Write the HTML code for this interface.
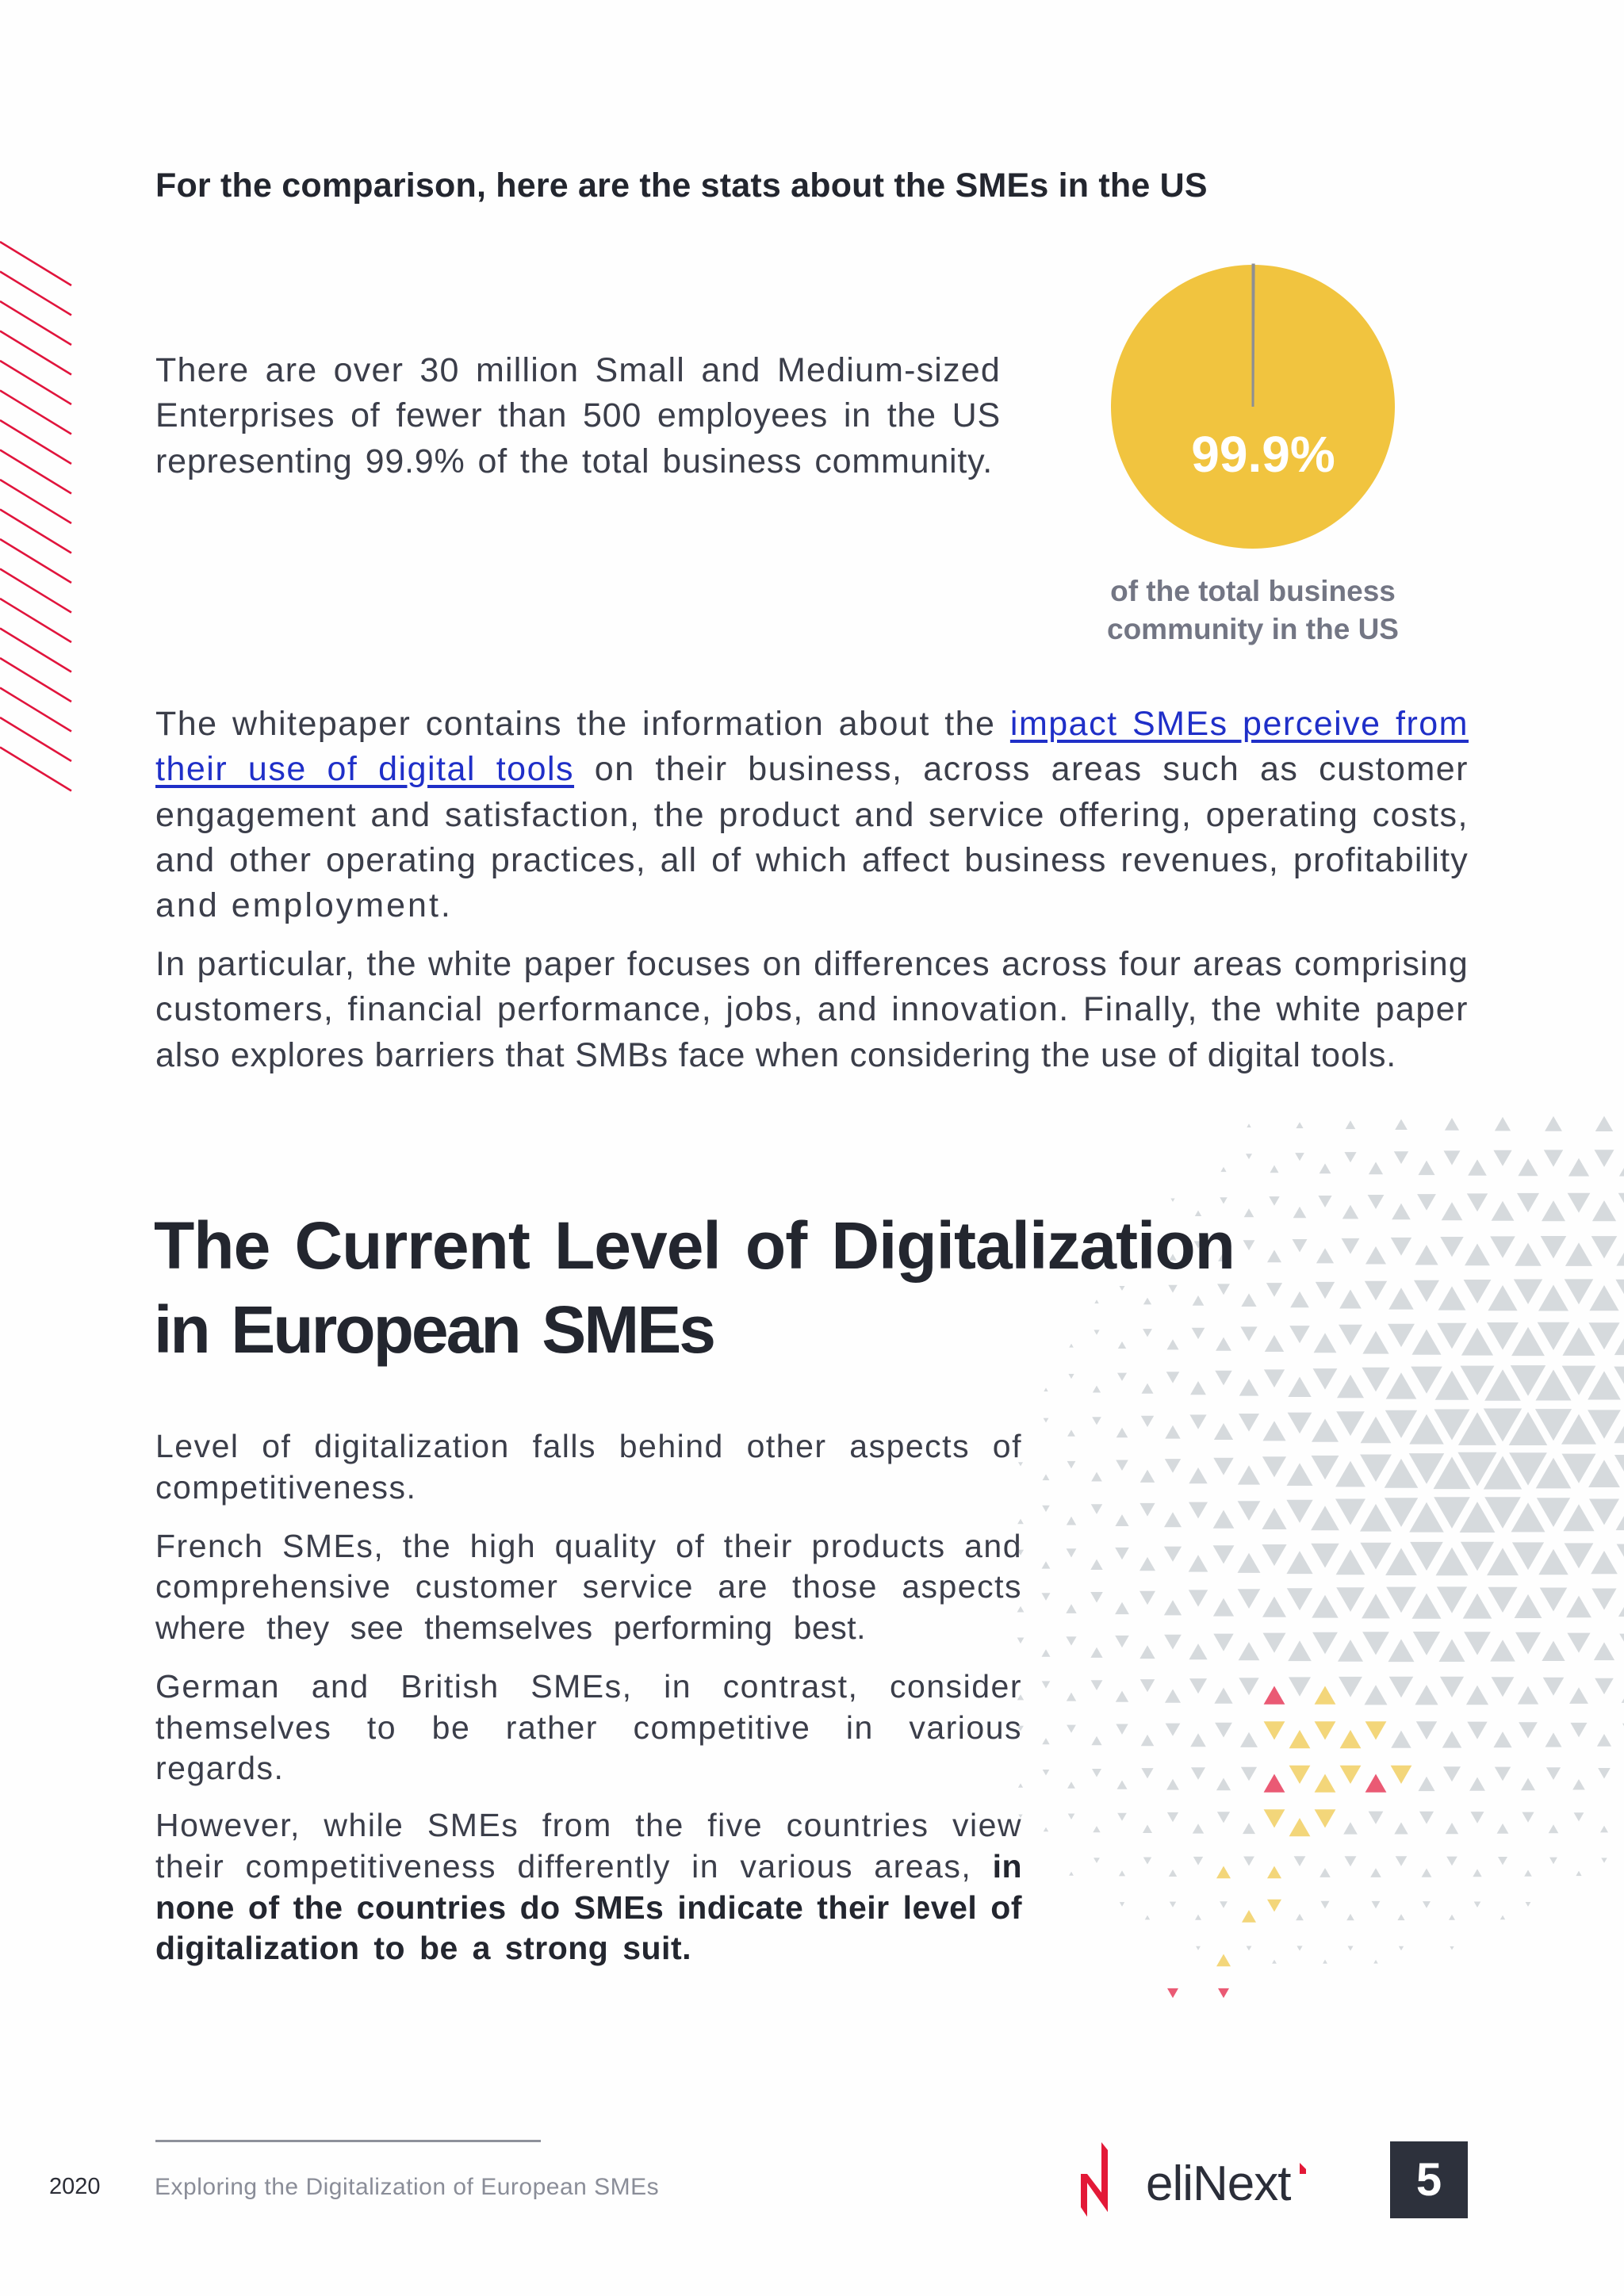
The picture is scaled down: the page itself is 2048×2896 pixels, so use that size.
<!DOCTYPE html>
<html><head><meta charset="utf-8">
<style>
html,body{margin:0;padding:0;}
body{width:2048px;height:2896px;position:relative;background:#fefefe;font-family:"Liberation Sans",sans-serif;color:#3b3e4a;overflow:hidden;}
.abs{position:absolute;}
.ln{position:absolute;white-space:nowrap;text-align:justify;text-align-last:justify;}
.nl{text-align-last:left;}
.body42{font-size:43px;letter-spacing:3px;}
.body40{font-size:41px;letter-spacing:1.5px;}
a{color:#1f2fc8;text-decoration:underline;text-underline-offset:6px;}
b{color:#23262f;letter-spacing:0.5px;}
</style></head><body>
<svg class="abs" style="left:0;top:0" width="2048" height="2896">
  <g id="stripes"></g>
  <g id="tris"></g>
</svg>

<div class="abs" style="left:196px;top:210px;font-size:43px;font-weight:bold;color:#23262f;white-space:nowrap;letter-spacing:0.2px">For the comparison, here are the stats about the SMEs in the US</div>

<div>
<div class="ln body42" style="left:196px;top:443px;width:1066px;letter-spacing:1.2px">There are over 30 million Small and Medium-sized</div>
<div class="ln body42" style="left:196px;top:500px;width:1066px;letter-spacing:0.8px">Enterprises of fewer than 500 employees in the US</div>
<div class="ln body42" style="left:196px;top:558px;width:1056px;letter-spacing:0.8px">representing 99.9% of the total business community.</div>
</div>

<svg class="abs" style="left:1380px;top:310px" width="400" height="420">
  <g id="pie"></g>
  <text x="213" y="285" text-anchor="middle" font-family="Liberation Sans, sans-serif" font-weight="bold" font-size="64" fill="#ffffff">99.9%</text>
</svg>
<div class="abs" style="left:1330px;top:722px;width:500px;text-align:center;font-size:37px;font-weight:bold;color:#737684;line-height:48px">of the total business<br>community in the US</div>

<div>
<div class="ln body42" style="left:196px;top:889px;width:1656px;letter-spacing:1.5px">The whitepaper contains the information about the <a>impact SMEs perceive from</a></div>
<div class="ln body42" style="left:196px;top:946px;width:1656px;letter-spacing:1.5px"><a>their use of digital tools</a> on their business, across areas such as customer</div>
<div class="ln body42" style="left:196px;top:1004px;width:1656px;letter-spacing:1.5px">engagement and satisfaction, the product and service offering, operating costs,</div>
<div class="ln body42" style="left:196px;top:1061px;width:1656px;letter-spacing:1.2px">and other operating practices, all of which affect business revenues, profitability</div>
<div class="ln body42 nl" style="left:196px;top:1118px;">and employment.</div>
</div>

<div>
<div class="ln body42" style="left:196px;top:1192px;width:1656px;letter-spacing:1.2px">In particular, the white paper focuses on differences across four areas comprising</div>
<div class="ln body42" style="left:196px;top:1249px;width:1656px;letter-spacing:1.5px">customers, financial performance, jobs, and innovation. Finally, the white paper</div>
<div class="ln body42" style="left:196px;top:1307px;width:1558px;letter-spacing:0.8px">also explores barriers that SMBs face when considering the use of digital tools.</div>
</div>

<div style="position:absolute;left:194px;top:1518px;font-size:84px;font-weight:bold;color:#23262f;line-height:106px;">
<div class="ln" style="position:relative;width:1363px;letter-spacing:-1px">The Current Level of Digitalization</div>
<div class="ln" style="position:relative;width:706px;letter-spacing:-3px">in European SMEs</div>
</div>

<div>
<div class="ln body40" style="left:196px;top:1801px;width:1093px">Level of digitalization falls behind other aspects of</div>
<div class="ln body40 nl" style="left:196px;top:1853px;">competitiveness.</div>
<div class="ln body40" style="left:196px;top:1927px;width:1093px">French SMEs, the high quality of their products and</div>
<div class="ln body40" style="left:196px;top:1978px;width:1093px">comprehensive customer service are those aspects</div>
<div class="ln body40" style="left:196px;top:2030px;width:896px;letter-spacing:0.5px">where they see themselves performing best.</div>
<div class="ln body40" style="left:196px;top:2104px;width:1093px">German and British SMEs, in contrast, consider</div>
<div class="ln body40" style="left:196px;top:2156px;width:1093px">themselves to be rather competitive in various</div>
<div class="ln body40 nl" style="left:196px;top:2207px;">regards.</div>
<div class="ln body40" style="left:196px;top:2279px;width:1093px">However, while SMEs from the five countries view</div>
<div class="ln body40" style="left:196px;top:2331px;width:1093px">their competitiveness differently in various areas, <b>in</b></div>
<div class="ln body40" style="left:196px;top:2383px;width:1093px;letter-spacing:0"><b>none of the countries do SMEs indicate their level of</b></div>
<div class="ln body40" style="left:196px;top:2434px;width:676px;letter-spacing:0"><b>digitalization to be a strong suit.</b></div>
</div>

<div class="abs" style="left:196px;top:2699px;width:486px;height:3px;background:#8e919a"></div>
<div class="abs" style="left:62px;top:2742px;font-size:29px;color:#2b2d36">2020</div>
<div class="abs" style="left:195px;top:2742px;font-size:30px;letter-spacing:0.5px;color:#8a8d98">Exploring the Digitalization of European SMEs</div>

<svg class="abs" style="left:1355px;top:2698px" width="300" height="104">
  <polygon points="8,44 16,44 16,98 8,86" fill="#e31937"/>
  <polygon points="8,44 16,44 42,78 42,92" fill="#e31937"/>
  <polygon points="34,4 42,14 42,92 34,80" fill="#e31937"/>
  <text x="90" y="77" font-family="Liberation Sans, sans-serif" font-size="62" fill="#2b2e39" letter-spacing="-1">eliNext</text>
  <polygon points="284,30 292,38 292,44 284,44" fill="#e31937"/>
</svg>

<div class="abs" style="left:1753px;top:2701px;width:98px;height:97px;background:#2d313c;color:#ffffff;font-size:58px;font-weight:bold;text-align:center;line-height:97px">5</div>

<script>
// pie data
const pieLabels = ["SMEs", "Large enterprises"];
const pieValues = [99.9, 0.1];
const pieColors = ["#f1c43f", "#8e8f93"];

(function(){
  const NS="http://www.w3.org/2000/svg";
  const g=document.getElementById('pie');
  const cx=200, cy=203, r=179;
  const total=pieValues.reduce((a,b)=>a+b,0);
  let a0=-Math.PI/2;
  for(let i=0;i<pieValues.length;i++){
    const ang=pieValues[i]/total*2*Math.PI;
    const a1=a0-ang;
    const x0=cx+r*Math.cos(a0), y0=cy+r*Math.sin(a0);
    const x1=cx+r*Math.cos(a1), y1=cy+r*Math.sin(a1);
    const large=ang>Math.PI?1:0;
    const p=document.createElementNS(NS,'path');
    p.setAttribute('d',`M${cx},${cy} L${x0},${y0} A${r},${r} 0 ${large} 0 ${x1},${y1} Z`);
    p.setAttribute('fill',pieColors[i]);
    if(pieValues[i]/total<0.01){p.setAttribute('stroke',pieColors[i]);p.setAttribute('stroke-width','3');}
    
    
    g.appendChild(p);
    a0=a1;
  }
})();

(function(){
  const NS="http://www.w3.org/2000/svg";
  const sg=document.getElementById('stripes');
  for(let k=0;k<18;k++){
    const l=document.createElementNS(NS,'line');
    const ys=305+k*37.5;
    l.setAttribute('x1',0);l.setAttribute('y1',ys);
    l.setAttribute('x2',90);l.setAttribute('y2',ys+55);
    l.setAttribute('stroke','#e0143c');l.setAttribute('stroke-width','2.5');
    
    
    sg.appendChild(l);
  }
  const tg=document.getElementById('tris');
  const W=64,H=55.5,X0=7,Y0=-4;
  const redPts=[[1607,2142],[1603,2254],[1732,2260],[1466,2515],[1530,2517],[1429,2646]];
  const yelPts=[[1671,2142],[1637,2200],[1702,2202],[1668,2258],[1633,2312],[1536,2367],[1599,2368],[1565,2423],[1532,2479],
    [1606,2183],[1670,2187],[1735,2187],[1637,2242],[1701,2243],[1766,2246],[1603,2296],[1667,2300],[1599,2408],[1495,2573],[1497,2535]];
  function near(list,x,y){for(const p of list){if(Math.abs(p[0]-x)<14&&Math.abs(p[1]-y)<14)return true;}return false;}
  function scaleAt(x,y){
    const dx=(x-1890), dy=(y-1830);
    const u=(dx-dy)/Math.SQRT2, v=(dx+dy)/Math.SQRT2;
    const d=Math.sqrt(u*u/2.2+v*v*1.0);
    return 0.8-d/720;
  }
  for(let r=24;r<52;r++){
    const top=Y0+r*H;
    const off=(r%2)?32:0;
    for(let k=18;k<34;k++){
      const xc=X0+k*W+off;
      const cands=[
        {cx:xc, cy:top+H*2/3, pts:[[xc,top],[xc-32,top+H],[xc+32,top+H]]},
        {cx:xc+32, cy:top+H/3, pts:[[xc,top],[xc+64,top],[xc+32,top+H]]}
      ];
      for(const c of cands){
        if(c.cx<1280||c.cx>2080||c.cy<1420)continue;
        let s=scaleAt(c.cx,c.cy);
        let col='#d6dadd';
        if(near(redPts,c.cx,c.cy)){col='#ea5a74';s=c.cy<2300?0.42:0.22;}
        else if(near(yelPts,c.cx,c.cy)){col='#f3d67a';s=c.cy<2320?0.42:0.28;}
        if(s<0.08)continue;
        s=Math.min(s,0.8);
        const pts=c.pts.map(p=>[c.cx+(p[0]-c.cx)*s, c.cy+(p[1]-c.cy)*s].map(v=>v.toFixed(1)).join(',')).join(' ');
        const t=document.createElementNS(NS,'polygon');
        t.setAttribute('points',pts);
        t.setAttribute('fill',col);
        
        
        tg.appendChild(t);
      }
    }
  }
})();
</script>
</body></html>
